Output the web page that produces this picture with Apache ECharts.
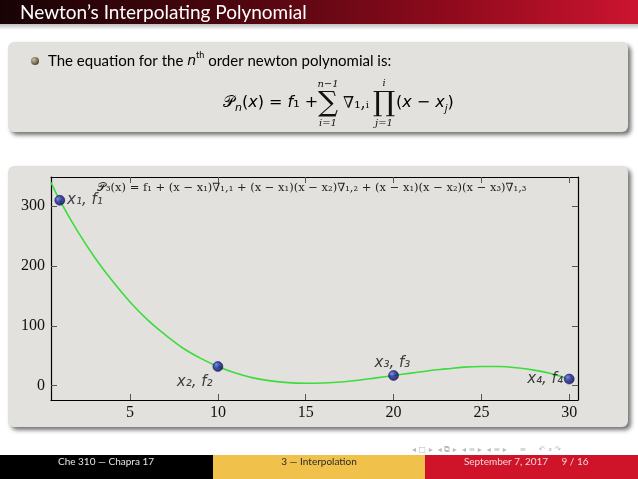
<!DOCTYPE html>
<html>
<head>
<meta charset="utf-8">
<script src="https://cdn.jsdelivr.net/npm/echarts@6/dist/echarts.min.js"></script>
<style>
html,body{margin:0;padding:0;background:#fff;}
#c{width:638px;height:479px;}
</style>
</head>
<body>
<div id="c"></div>
<script>
// ---- data ----
const xTicks = [5, 10, 15, 20, 25, 30];
const yTicks = [0, 100, 200, 300];
const curveX = [0.5, 1, 2, 3, 4, 5, 6, 7, 8, 9, 10, 11, 12, 13, 14, 15, 16, 17, 18, 19, 20, 21, 22, 23, 24, 25, 26, 27, 28, 29, 30];
const curveY = [340, 310, 259, 214, 175, 140, 110, 85, 63, 46, 32, 21, 13, 8, 5, 4, 4.5, 6, 9, 13, 17, 21, 25, 28, 31, 32, 32, 30, 26, 20, 11];
const pointX = [1, 10, 20, 30];
const pointY = [310, 32, 17, 11];
const pointLabels = ['x\u2081, f\u2081', 'x\u2082, f\u2082', 'x\u2083, f\u2083', 'x\u2084, f\u2084'];
const plotFormula = '\uD835\uDCAB\u2083(x) = f\u2081 + (x \u2212 x\u2081)\u2207\u2081,\u2081 + (x \u2212 x\u2081)(x \u2212 x\u2082)\u2207\u2081,\u2082 + (x \u2212 x\u2081)(x \u2212 x\u2082)(x \u2212 x\u2083)\u2207\u2081,\u2083';
const slideTitle = 'Newton\u2019s Interpolating Polynomial';
const footLeft = 'Che 310 \u2014 Chapra 17';
const footMid = '3 \u2014 Interpolation';
const footDate = 'September 7, 2017';
const footPage = '9 / 16';

// label placement per point (style only)
const labelPlacement = [
  {position: 'right', offset: [0, 0]},
  {position: 'left', offset: [2, 16]},
  {position: 'left', offset: [24, -12]},
  {position: 'left', offset: [1, 0]}
];

const chart = echarts.init(document.getElementById('c'), null, {renderer: 'canvas'});

const ballColor = {
  type: 'radial', x: 0.35, y: 0.35, r: 0.75,
  colorStops: [{offset: 0, color: '#6f80e8'}, {offset: 0.4, color: '#1a239c'}, {offset: 1, color: '#040440'}]
};

const pointData = pointX.map((x, i) => ({
  value: [x, pointY[i]],
  label: {
    show: true,
    formatter: pointLabels[i],
    position: labelPlacement[i].position,
    offset: labelPlacement[i].offset,
    distance: 2,
    fontFamily: 'DejaVu Sans',
    fontStyle: 'italic',
    fontSize: 15,
    color: '#111'
  }
}));

const serif = 'Liberation Serif';
const sans = 'Lato';

const graphics = [
  // title bar
  {type: 'rect', z: -20, shape: {x: 0, y: 24, width: 638, height: 6},
   style: {fill: {type: 'linear', x: 0, y: 0, x2: 0, y2: 1, colorStops: [{offset: 0, color: 'rgba(0,0,0,0.25)'}, {offset: 1, color: 'rgba(0,0,0,0)'}]}}},
  {type: 'rect', z: -19, shape: {x: 0, y: 0, width: 638, height: 24},
   style: {fill: {type: 'linear', x: 0, y: 0, x2: 1, y2: 0, colorStops: [
     {offset: 0, color: '#170305'}, {offset: 0.35, color: '#4a060e'}, {offset: 0.7, color: '#8e0a1c'}, {offset: 1, color: '#cc1430'}]}}},
  {type: 'text', z: -18, x: 20, y: 13,
   style: {text: slideTitle, fill: '#ffffff', fontFamily: sans, fontSize: 19, verticalAlign: 'middle'}},
  // block 1
  {type: 'rect', z: -15, shape: {x: 8, y: 42, width: 620, height: 90, r: 6},
   style: {fill: '#e2e1de', shadowBlur: 4, shadowOffsetX: 3, shadowOffsetY: 3, shadowColor: 'rgba(0,0,0,0.55)'}},
  {type: 'circle', z: -14, shape: {cx: 35, cy: 61, r: 4},
   style: {fill: {type: 'radial', x: 0.35, y: 0.35, r: 0.8, colorStops: [{offset: 0, color: '#c9c2a8'}, {offset: 1, color: '#3a3220'}]}}},
  {type: 'text', z: -14, x: 48, y: 61,
   style: {
     text: '{a|The equation for the }{i|n}{s|th}{a| order newton polynomial is:}',
     verticalAlign: 'middle',
     rich: {
       a: {fontFamily: sans, fontSize: 15, color: '#111', lineHeight: 20},
       i: {fontFamily: 'DejaVu Sans', fontStyle: 'italic', fontSize: 14, color: '#111', lineHeight: 20},
       s: {fontFamily: sans, fontSize: 9, color: '#111', lineHeight: 20, verticalAlign: 'top', padding: [0, 0, 8, 0]}
     }
   }},
  // formula
  {type: 'text', z: -14, x: 223, y: 103,
   style: {
     text: '{p|\uD835\uDCAB}{s|n}{m|(}{i|x}{m|) = }{i|f}{m|\u2081 +}',
     verticalAlign: 'middle',
     rich: {
       p: {fontFamily: 'DejaVu Sans', fontSize: 16, color: '#111', lineHeight: 22},
       i: {fontFamily: 'DejaVu Sans', fontStyle: 'italic', fontSize: 16, color: '#111', lineHeight: 22},
       m: {fontFamily: 'DejaVu Sans', fontSize: 16, color: '#111', lineHeight: 22},
       s: {fontFamily: 'DejaVu Sans', fontStyle: 'italic', fontSize: 11, color: '#111', lineHeight: 22, verticalAlign: 'bottom', padding: [5, 0, 0, 0]}
     }
   }},
  {type: 'text', z: -14, x: 328, y: 104,
   style: {text: '\u2211', fontFamily: 'DejaVu Serif', fontSize: 28, fill: '#111', align: 'center', verticalAlign: 'middle'}},
  {type: 'text', z: -14, x: 328, y: 84,
   style: {text: 'n\u22121', fontFamily: 'DejaVu Serif', fontStyle: 'italic', fontSize: 10, fill: '#111', align: 'center', verticalAlign: 'middle'}},
  {type: 'text', z: -14, x: 328, y: 123,
   style: {text: 'i=1', fontFamily: 'DejaVu Serif', fontStyle: 'italic', fontSize: 10, fill: '#111', align: 'center', verticalAlign: 'middle'}},
  {type: 'text', z: -14, x: 343, y: 104,
   style: {text: '\u2207\u2081,\u1D62', fontFamily: 'DejaVu Serif', fontSize: 16, fill: '#111', verticalAlign: 'middle'}},
  {type: 'text', z: -14, x: 384, y: 104,
   style: {text: '\u220F', fontFamily: 'DejaVu Serif', fontSize: 28, fill: '#111', align: 'center', verticalAlign: 'middle'}},
  {type: 'text', z: -14, x: 384, y: 83,
   style: {text: 'i', fontFamily: 'DejaVu Serif', fontStyle: 'italic', fontSize: 10, fill: '#111', align: 'center', verticalAlign: 'middle'}},
  {type: 'text', z: -14, x: 384, y: 123,
   style: {text: 'j=1', fontFamily: 'DejaVu Serif', fontStyle: 'italic', fontSize: 10, fill: '#111', align: 'center', verticalAlign: 'middle'}},
  {type: 'text', z: -14, x: 396, y: 103,
   style: {
     text: '{m|(}{i|x}{m| \u2212 }{i|x}{s|j}{m|)}',
     verticalAlign: 'middle',
     rich: {
       i: {fontFamily: 'DejaVu Sans', fontStyle: 'italic', fontSize: 16, color: '#111', lineHeight: 22},
       m: {fontFamily: 'DejaVu Sans', fontSize: 16, color: '#111', lineHeight: 22},
       s: {fontFamily: 'DejaVu Sans', fontStyle: 'italic', fontSize: 10, color: '#111', lineHeight: 22, verticalAlign: 'bottom', padding: [6, 0, 0, 0]}
     }
   }},
  // block 2
  {type: 'rect', z: -15, shape: {x: 8, y: 166, width: 620, height: 261, r: 6},
   style: {fill: '#e2e1de', shadowBlur: 4, shadowOffsetX: 3, shadowOffsetY: 3, shadowColor: 'rgba(0,0,0,0.55)'}},
  {type: 'text', z: 5, x: 97, y: 188,
   style: {text: plotFormula, fontFamily: 'DejaVu Serif', fontSize: 11.5, fill: '#222', verticalAlign: 'middle'}},
  // navigation symbols
  {type: 'text', z: -14, x: 412, y: 450,
   style: {text: '\u25C2 \u25A1 \u25B8  \u25C2 \u29C9 \u25B8  \u25C2 \u2261 \u25B8  \u25C2 \u2261 \u25B8     \u2261     \u21B6 \u2315 \u21B7',
     fontFamily: 'DejaVu Sans', fontSize: 8, fill: '#b8b8c0', verticalAlign: 'middle'}},
  // footer
  {type: 'rect', z: -15, shape: {x: 0, y: 455, width: 213, height: 24}, style: {fill: '#000000'}},
  {type: 'rect', z: -15, shape: {x: 213, y: 455, width: 212, height: 24}, style: {fill: '#f0c14b'}},
  {type: 'rect', z: -15, shape: {x: 425, y: 455, width: 213, height: 24}, style: {fill: '#cf1329'}},
  {type: 'text', z: -14, x: 106, y: 462,
   style: {text: footLeft, fontFamily: sans, fontSize: 10, fill: '#e6e6e6', align: 'center', verticalAlign: 'middle'}},
  {type: 'text', z: -14, x: 319, y: 462,
   style: {text: footMid, fontFamily: sans, fontSize: 10, fill: '#2a2a2a', align: 'center', verticalAlign: 'middle'}},
  {type: 'text', z: -14, x: 506, y: 462,
   style: {text: footDate, fontFamily: sans, fontSize: 10, fill: '#f3d6da', align: 'center', verticalAlign: 'middle'}},
  {type: 'text', z: -14, x: 575, y: 462,
   style: {text: footPage, fontFamily: sans, fontSize: 10, fill: '#f3d6da', align: 'center', verticalAlign: 'middle'}}
];

const axisLineStyle = {show: true, onZero: false, lineStyle: {color: '#000', width: 1.2}};
const tickStyle = (vals) => ({show: true, inside: true, length: 6, customValues: vals, lineStyle: {color: '#555', width: 1}});

const option = {
  backgroundColor: '#ffffff',
  animation: false,
  graphic: graphics,
  grid: {left: 51, right: 60, top: 177, bottom: 79, show: false},
  xAxis: [
    {type: 'value', position: 'bottom', min: 0.5, max: 30.5,
     axisLine: axisLineStyle, axisTick: tickStyle(xTicks), splitLine: {show: false},
     axisLabel: {show: true, customValues: xTicks, margin: 5, fontFamily: serif, fontSize: 16, color: '#111'}},
    {type: 'value', position: 'top', min: 0.5, max: 30.5,
     axisLine: axisLineStyle, axisTick: tickStyle(xTicks), splitLine: {show: false},
     axisLabel: {show: false}}
  ],
  yAxis: [
    {type: 'value', position: 'left', min: -24, max: 349,
     axisLine: axisLineStyle, axisTick: tickStyle(yTicks), splitLine: {show: false},
     axisLabel: {show: true, customValues: yTicks, margin: 6, fontFamily: serif, fontSize: 16, color: '#111'}},
    {type: 'value', position: 'right', min: -24, max: 349,
     axisLine: axisLineStyle, axisTick: tickStyle(yTicks), splitLine: {show: false},
     axisLabel: {show: false}}
  ],
  series: [
    {type: 'line', xAxisIndex: 0, yAxisIndex: 0, data: curveX.map((x, i) => [x, curveY[i]]),
     smooth: 0.4, showSymbol: false, clip: true,
     lineStyle: {color: '#3ddc3d', width: 1.6}, z: 3},
    {type: 'scatter', xAxisIndex: 0, yAxisIndex: 0, data: pointData,
     symbol: 'circle', symbolSize: 10,
     itemStyle: {color: ballColor, borderColor: '#050540', borderWidth: 0.6}, z: 4}
  ]
};
chart.setOption(option);
</script>
</body>
</html>
